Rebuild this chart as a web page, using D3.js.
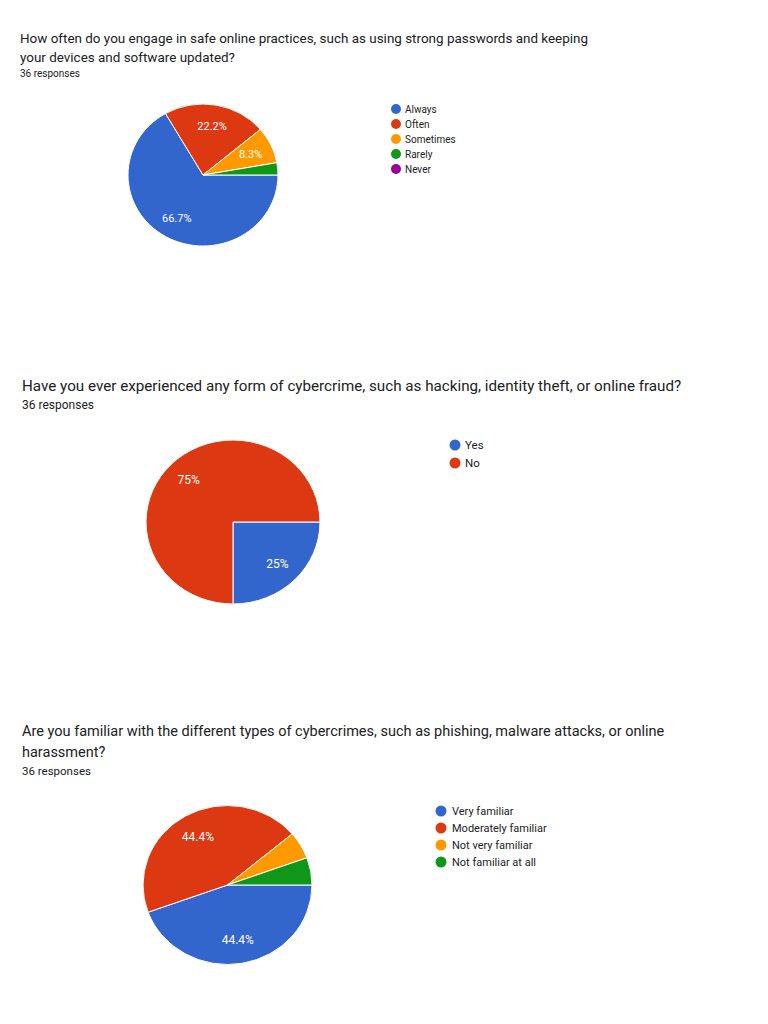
<!DOCTYPE html>
<html><head><meta charset="utf-8">
<script src="https://cdn.jsdelivr.net/npm/d3@7"></script>
<style>body{margin:0;background:#fff}svg{display:block}text{font-family:Roboto,"Noto Sans",Arial,sans-serif}</style>
</head><body>
<svg id="c" width="768" height="1024"></svg>
<script>
// Chart 1
const q1Title = ["How often do you engage in safe online practices, such as using strong passwords and keeping", "your devices and software updated?"];
const q1Categories = ["Always", "Often", "Sometimes", "Rarely", "Never"];
const q1Values = [24, 8, 3, 1, 0];
const q1Colors = ["#3366cc", "#dc3912", "#ff9900", "#109618", "#990099"];
// Chart 2
const q2Title = ["Have you ever experienced any form of cybercrime, such as hacking, identity theft, or online fraud?"];
const q2Categories = ["Yes", "No"];
const q2Values = [9, 27];
const q2Colors = ["#3366cc", "#dc3912"];
// Chart 3
const q3Title = ["Are you familiar with the different types of cybercrimes, such as phishing, malware attacks, or online", "harassment?"];
const q3Categories = ["Very familiar", "Moderately familiar", "Not very familiar", "Not familiar at all"];
const q3Values = [16, 16, 2, 2];
const q3Colors = ["#3366cc", "#dc3912", "#ff9900", "#109618"];
const responsesLabel = "36 responses";

const svg = d3.select("#c");

function drawChart(o) {
  const g = svg.append("g");
  o.title.forEach((t, i) => {
    g.append("text").attr("x", o.tx).attr("y", o.ty + i * o.tlh)
      .attr("font-size", o.tfs).attr("fill", "#202124").text(t);
  });
  g.append("text").attr("x", o.tx).attr("y", o.ry)
    .attr("font-size", o.rfs).attr("fill", "#202124").text(responsesLabel);

  const total = d3.sum(o.values);
  const data = o.categories.map((c, i) => ({cat: c, v: o.values[i], color: o.colors[i]}));
  const pie = d3.pie().value(d => d.v).sort(null)
    .startAngle(Math.PI / 2).endAngle(Math.PI / 2 + 2 * Math.PI);
  const arcs = pie(data);
  const arc = d3.arc().innerRadius(0).outerRadius(o.rx);
  const labelArc = d3.arc().innerRadius(o.rx * o.lf).outerRadius(o.rx * o.lf);
  const sy = o.ryy / o.rx;
  const pg = g.append("g").attr("transform", `translate(${o.cx},${o.cy}) scale(1,${sy})`);
  pg.selectAll("path").data(arcs.filter(a => a.data.v > 0)).join("path")
    .attr("d", arc).attr("fill", d => d.data.color)
    .attr("stroke", "#fff").attr("stroke-width", 1).attr("vector-effect", "non-scaling-stroke");
  const lg = g.append("g").attr("transform", `translate(${o.cx},${o.cy})`);
  lg.selectAll("text").data(arcs.filter(a => a.data.v / total > 0.06)).join("text")
    .attr("x", d => labelArc.centroid(d)[0])
    .attr("y", d => labelArc.centroid(d)[1] * sy)
    .attr("dy", "0.35em").attr("text-anchor", "middle")
    .attr("font-size", o.pfs).attr("fill", "#fff")
    .text(d => { const p = d.data.v / total * 100; return (Math.round(p * 10) / 10) + "%"; });

  const leg = g.append("g");
  data.forEach((d, i) => {
    const y = o.ly + i * o.lsp;
    leg.append("circle").attr("cx", o.lx).attr("cy", y).attr("r", o.lr).attr("fill", d.color);
    leg.append("text").attr("x", o.lx + o.lgap).attr("y", y).attr("dy", "0.35em")
      .attr("font-size", o.lfs).attr("fill", "#222").text(d.cat);
  });
}

drawChart({title: q1Title, categories: q1Categories, values: q1Values, colors: q1Colors,
  tx: 20, ty: 43, tlh: 19, tfs: 13.45, ry: 77, rfs: 10,
  cx: 203, cy: 175, rx: 75, ryy: 71, lf: 0.7, pfs: 11,
  lx: 396, ly: 109, lsp: 15, lr: 5, lgap: 9, lfs: 10});

drawChart({title: q2Title, categories: q2Categories, values: q2Values, colors: q2Colors,
  tx: 22, ty: 391, tlh: 20, tfs: 15.2, ry: 409, rfs: 12,
  cx: 233, cy: 522, rx: 87, ryy: 82, lf: 0.72, pfs: 12,
  lx: 455, ly: 445, lsp: 18, lr: 5.5, lgap: 10, lfs: 11.5});

drawChart({title: q3Title, categories: q3Categories, values: q3Values, colors: q3Colors,
  tx: 22, ty: 736, tlh: 21, tfs: 14.5, ry: 775, rfs: 11.5,
  cx: 227.5, cy: 885, rx: 84.5, ryy: 79.5, lf: 0.7, pfs: 12,
  lx: 441, ly: 811, lsp: 17, lr: 5.5, lgap: 11, lfs: 11});
</script>
</body></html>
